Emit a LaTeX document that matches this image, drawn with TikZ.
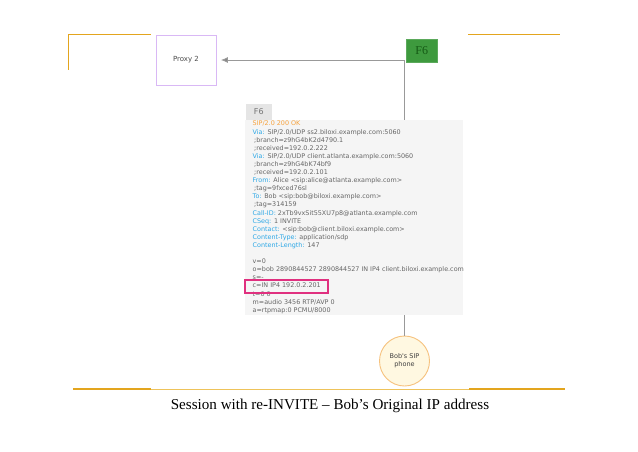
\documentclass[tikz,border=0pt]{standalone}
\usepackage{fontspec}
\setmainfont{Liberation Serif}
\newfontfamily\msgfont{DejaVu Sans}
\usetikzlibrary{arrows.meta}
\definecolor{goldc}{HTML}{E3A51E}
\definecolor{goldthin}{HTML}{EEC35A}
\definecolor{lav}{HTML}{D9B8F5}
\definecolor{connc}{HTML}{999999}
\definecolor{arrowc}{HTML}{888888}
\definecolor{greenfill}{HTML}{3E9A3E}
\definecolor{greentext}{HTML}{155A15}
\definecolor{fieldc}{HTML}{2EA8E6}
\definecolor{valc}{HTML}{666666}
\definecolor{okc}{HTML}{F7A23C}
\definecolor{pinkc}{HTML}{E0307F}
\definecolor{phonefill}{HTML}{FFF8E1}
\definecolor{phonedraw}{HTML}{F6C27E}
\newcommand{\fld}[1]{\textcolor{fieldc}{#1}}
\newcommand{\ind}{\hspace*{1.5pt}}
\tikzset{
  goldline/.style={draw=goldc, line width=1.5pt},
  proxybox/.style={draw=lav, line width=0.9pt, fill=white, minimum width=60pt, minimum height=50pt, inner sep=0pt, font=\msgfont\fontsize{7}{8}\selectfont, text=black!70},
  greenbox/.style={draw=greenfill!85!white, fill=greenfill, minimum width=31.6pt, minimum height=23.3pt, inner sep=0pt, font=\fontsize{12}{14}\selectfont, text=greentext},
  conn/.style={draw=connc, line width=0.8pt},
  msgbox/.style={fill=black!4, draw=none, minimum width=218pt, minimum height=195pt, inner sep=0pt},
  tabbox/.style={fill=black!10, draw=none, minimum width=25.7pt, minimum height=16pt, inner sep=0pt, font=\msgfont\fontsize{8}{9}\selectfont, text=black!55},
  msgtext/.style={inner sep=0pt, align=left, text=valc, font=\msgfont\fontsize{6.4}{8.1}\selectfont},
  pinkbox/.style={draw=pinkc, line width=1.4pt, minimum width=83pt, minimum height=13pt, inner sep=0pt},
  phone/.style={circle, draw=phonedraw, line width=0.9pt, fill=phonefill, minimum size=50pt, inner sep=0pt, align=center, font=\msgfont\fontsize{6.5}{8}\selectfont, text=black!75},
  captionstyle/.style={inner sep=0pt, font=\fontsize{15.1}{17}\selectfont, text=black}
}
\begin{document}
\begin{tikzpicture}[x=1pt,y=-1pt]
\path[use as bounding box, fill=white] (0,0) rectangle (638,451);
% top gold lines
\draw[goldline] (150.7,34.3) -- (68.3,34.3) -- (68.3,70);
\draw[goldline] (468,34.3) -- (560,34.3);
% nodes
\node[proxybox] (proxy) at (186,60) {Proxy 2};
\coordinate (corner) at (404.5,60);
\node[greenbox, anchor=north west] (f6) at (405.7,39) {F6};
\node[phone] (bob) at (404.5,361) {Bob's SIP\\phone};
% connectors
\draw[conn] (bob.north) -- (corner);
\draw[conn, -{Latex[length=7pt,width=6pt,fill=arrowc]}, shorten >=4.5pt] (corner) -- (proxy.east);
% message box
\node[msgbox] (msg) at (354,217.5) {};
\node[tabbox] (tab) at (258.8,112) {F6};
\node[msgtext, anchor=north west] (txt) at (252.5,121) {%
\textcolor{okc}{SIP/2.0 200 OK}\\
\fld{Via:} SIP/2.0/UDP ss2.biloxi.example.com:5060\\
\ind;branch=z9hG4bK2d4790.1\\
\ind;received=192.0.2.222\\
\fld{Via:} SIP/2.0/UDP client.atlanta.example.com:5060\\
\ind;branch=z9hG4bK74bf9\\
\ind;received=192.0.2.101\\
\fld{From:} Alice <sip:alice@atlanta.example.com>\\
\ind;tag=9fxced76sl\\
\fld{To:} Bob <sip:bob@biloxi.example.com>\\
\ind;tag=314159\\
\fld{Call-ID:} 2xTb9vxSit55XU7p8@atlanta.example.com\\
\fld{CSeq:} 1 INVITE\\
\fld{Contact:} <sip:bob@client.biloxi.example.com>\\
\fld{Content-Type:} application/sdp\\
\fld{Content-Length:} 147\\[8.1pt]
v=0\\
o=bob 2890844527 2890844527 IN IP4 client.biloxi.example.com\\
s=-\\
c=IN IP4 192.0.2.201\\
t=0 0\\
m=audio 3456 RTP/AVP 0\\
a=rtpmap:0 PCMU/8000};
\node[pinkbox] (hl) at (286.5,286.5) {};
% bottom line
\draw[draw=goldthin, line width=0.8pt] (73,389) -- (565,389);
\draw[draw=goldc, line width=2pt] (73,389) -- (151,389);
\draw[draw=goldc, line width=2pt] (469,389) -- (565,389);
\node[captionstyle] (cap) at (330,406) {Session with re-INVITE – Bob’s Original IP address};
\end{tikzpicture}
\end{document}
